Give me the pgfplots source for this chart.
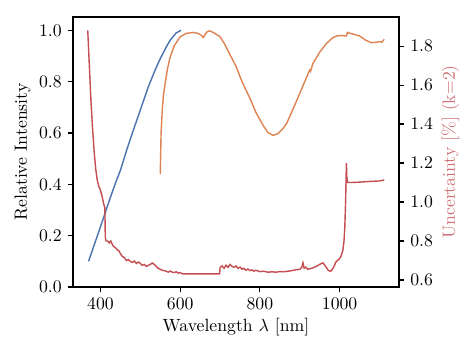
\documentclass[border=0pt]{standalone}
\usepackage{pgfplots}
\pgfplotsset{compat=1.18}
\definecolor{sbblue}{HTML}{4C72B0}
\definecolor{sborange}{HTML}{DD8452}
\definecolor{sbred}{HTML}{C44E52}
\def\s{0.565pt}
\begin{document}
\begin{tikzpicture}
\useasboundingbox (-73*\s,-68*\s) rectangle (401*\s,287*\s);
\pgfplotsset{every axis/.style={
  scale only axis, width=326*\s, height=270*\s, at={(0,0)}, anchor=south west,
  tick align=outside, major tick length=5*\s, axis line style={line width=0.7pt},
  tick style={line width=0.6pt,black},
  xmin=331, xmax=1149,
  /pgf/number format/1000 sep={},
  yticklabel style={/pgf/number format/fixed,/pgf/number format/precision=1,/pgf/number format/fixed zerofill},
}}
\begin{axis}[
  ymin=0, ymax=1.052,
  xtick={400,600,800,1000}, ytick={0,0.2,0.4,0.6,0.8,1.0},
  xtick pos=bottom, ytick pos=left,
  xlabel={Wavelength $\lambda$ [nm]}, ylabel={Relative Intensity},
  xlabel style={yshift=2pt}, ylabel style={yshift=-2pt},
]
\addplot[sbblue, line width=0.8pt] coordinates {
(370,0.10)(380,0.145)(390,0.19)(400,0.235)(412,0.29)(425,0.35)(440,0.415)(450,0.455)(465,0.53)(480,0.60)(500,0.69)(520,0.78)(537,0.845)(550,0.89)(565,0.935)(575,0.962)(590,0.99)(602,1.0)};
\addplot[sborange, line width=0.8pt] coordinates {
(550,0.44)(552,0.60)(555,0.69)(558,0.75)(562,0.79)(568,0.85)(575,0.897)(585,0.94)(600,0.975)(615,0.988)(633,0.992)(645,0.988)(652,0.982)(658,0.972)(663,0.985)(668,0.995)(675,0.998)(685,0.99)(700,0.975)(712,0.945)(725,0.905)(740,0.86)(755,0.80)(775,0.735)(790,0.68)(808,0.63)(820,0.602)(833,0.591)(845,0.597)(855,0.612)(867,0.637)(885,0.70)(900,0.754)(915,0.81)(925,0.845)(927,0.84)(933,0.871)(950,0.915)(967,0.949)(980,0.968)(992,0.978)(1005,0.98)(1017,0.978)(1020,0.992)(1023,0.99)(1035,0.985)(1050,0.978)(1065,0.962)(1079,0.952)(1090,0.953)(1100,0.956)(1106,0.954)(1112,0.965)};
\end{axis}
\begin{axis}[
  ymin=0.564, ymax=1.949,
  ytick={0.6,0.8,1.0,1.2,1.4,1.6,1.8},
  axis y line*=right, axis x line=none,
  ylabel={Uncertainty [\%] (k=2)}, ylabel style={color=sbred!80, yshift=2pt},
]
\addplot[sbred, line width=0.8pt] coordinates {
(368,1.88)(372,1.70)(376,1.52)(380,1.38)(384,1.26)(388,1.17)(392,1.11)(396,1.08)(400,1.06)(404,1.03)(408,0.99)(411,0.97)(412,0.82)(414,0.80)(418,0.80)(422,0.79)(426,0.80)(430,0.78)(434,0.77)(438,0.765)(442,0.755)(446,0.75)(450,0.735)(455,0.72)(460,0.715)(465,0.70)(470,0.705)(475,0.695)(480,0.69)(485,0.697)(490,0.685)(495,0.692)(500,0.685)(505,0.675)(510,0.68)(515,0.67)(520,0.675)(525,0.68)(530,0.687)(535,0.68)(540,0.67)(545,0.66)(550,0.655)(555,0.65)(560,0.648)(565,0.645)(570,0.64)(575,0.646)(580,0.64)(585,0.638)(590,0.642)(595,0.635)(600,0.638)(605,0.632)(610,0.631)(650,0.631)(699,0.631)(700,0.665)(705,0.672)(710,0.66)(715,0.676)(720,0.665)(725,0.68)(730,0.67)(735,0.665)(740,0.672)(745,0.66)(750,0.666)(755,0.655)(760,0.66)(765,0.65)(770,0.656)(775,0.648)(780,0.652)(785,0.645)(790,0.65)(800,0.643)(810,0.645)(820,0.64)(830,0.642)(840,0.64)(850,0.643)(860,0.642)(870,0.645)(880,0.648)(890,0.652)(900,0.655)(905,0.665)(908,0.688)(911,0.66)(915,0.666)(920,0.655)(930,0.66)(940,0.668)(950,0.68)(958,0.688)(965,0.67)(972,0.648)(978,0.645)(985,0.665)(990,0.69)(994,0.70)(998,0.705)(1003,0.72)(1008,0.75)(1011,0.80)(1013,0.87)(1015,1.00)(1016,1.10)(1017,1.20)(1018,1.13)(1020,1.10)(1030,1.10)(1050,1.102)(1080,1.106)(1100,1.108)(1112,1.113)};
\end{axis}
\end{tikzpicture}
\end{document}
